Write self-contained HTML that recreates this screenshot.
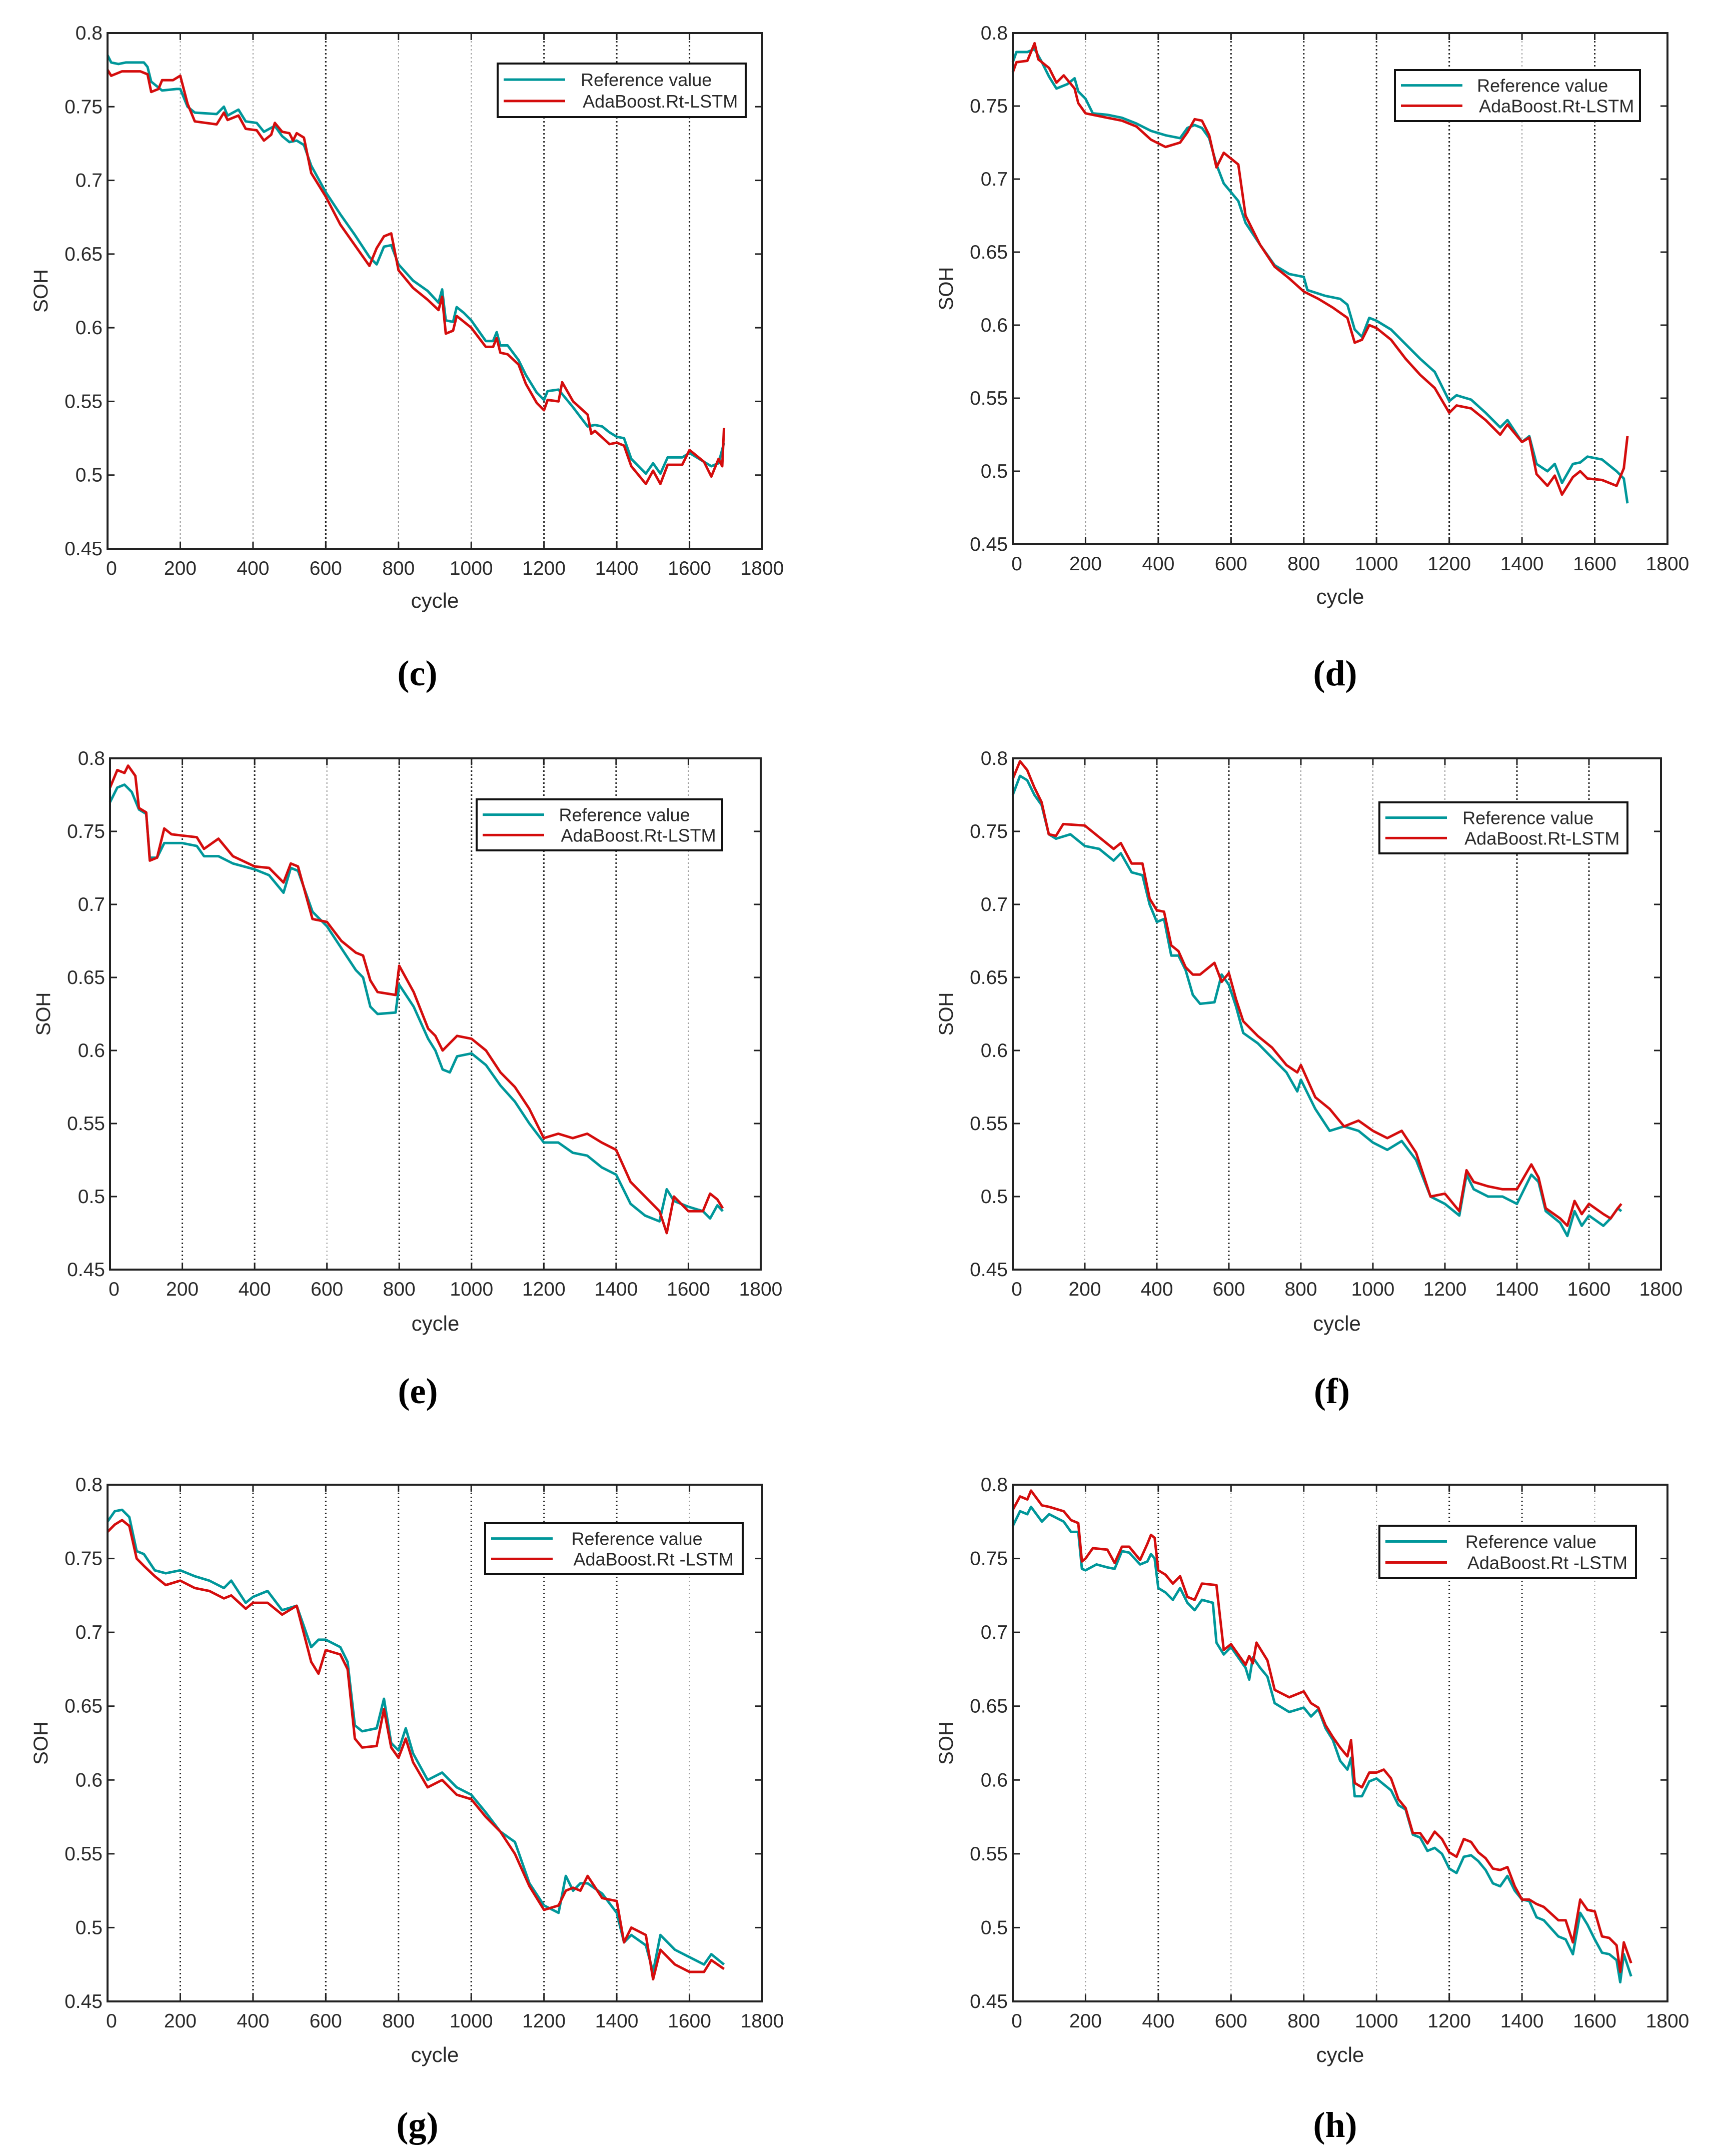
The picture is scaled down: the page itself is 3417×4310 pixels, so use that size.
<!DOCTYPE html>
<html><head><meta charset="utf-8"><style>
html,body{margin:0;padding:0;background:#fff;}
svg{display:block;}
text{font-family:"Liberation Sans",Arial,sans-serif;fill:#2a2a2a;}
</style></head><body>
<svg id="fig" xmlns="http://www.w3.org/2000/svg" width="3417" height="4310" viewBox="0 0 3417 4310"></svg>
<script>
const xTicks=[0,200,400,600,800,1000,1200,1400,1600,1800];
const yTicks=[0.45,0.5,0.55,0.6,0.65,0.7,0.75,0.8];
const yTickLabels=["0.45","0.5","0.55","0.6","0.65","0.7","0.75","0.8"];
const seriesNames=["Reference value","AdaBoost.Rt-LSTM"];
const seriesNamesB=["Reference value","AdaBoost.Rt -LSTM"];

const cRefX=[0,10,30,50,100,110,120,150,190,200,220,240,300,320,330,360,380,410,430,460,480,500,520,540,560,600,640,680,720,740,760,780,800,840,880,910,920,930,950,960,980,1000,1040,1060,1070,1080,1100,1130,1150,1180,1200,1210,1240,1280,1320,1340,1360,1380,1400,1420,1440,1480,1500,1520,1540,1580,1600,1640,1660,1680,1695];
const cRefY=[0.785,0.78,0.779,0.78,0.78,0.777,0.767,0.761,0.762,0.762,0.75,0.746,0.745,0.75,0.744,0.748,0.74,0.739,0.733,0.737,0.73,0.726,0.727,0.724,0.71,0.692,0.677,0.663,0.648,0.643,0.655,0.656,0.643,0.632,0.625,0.617,0.626,0.605,0.604,0.614,0.61,0.605,0.591,0.591,0.597,0.588,0.588,0.578,0.568,0.556,0.551,0.557,0.558,0.546,0.533,0.534,0.533,0.529,0.526,0.525,0.511,0.501,0.508,0.501,0.512,0.512,0.515,0.509,0.506,0.508,0.522];
const cPredX=[0,10,40,90,110,120,140,150,180,200,220,240,300,320,330,360,380,410,430,450,460,480,500,510,520,540,560,600,640,680,720,740,760,780,800,840,880,910,920,930,950,960,1000,1040,1060,1070,1080,1100,1130,1150,1180,1200,1210,1240,1250,1280,1320,1330,1340,1380,1400,1420,1440,1480,1500,1520,1540,1580,1600,1640,1660,1680,1690,1695];
const cPredY=[0.775,0.771,0.774,0.774,0.772,0.76,0.762,0.768,0.768,0.771,0.752,0.74,0.738,0.746,0.741,0.744,0.735,0.734,0.727,0.731,0.739,0.733,0.732,0.727,0.732,0.729,0.705,0.689,0.67,0.656,0.642,0.654,0.662,0.664,0.639,0.627,0.619,0.612,0.621,0.596,0.598,0.608,0.6,0.587,0.587,0.593,0.583,0.582,0.575,0.562,0.549,0.544,0.551,0.55,0.563,0.55,0.541,0.528,0.53,0.521,0.522,0.52,0.506,0.494,0.503,0.494,0.507,0.507,0.517,0.509,0.499,0.511,0.506,0.532];

const dRefX=[0,10,40,60,80,100,120,150,170,180,200,220,260,300,340,380,420,460,480,500,520,540,560,580,620,640,680,720,760,800,810,860,900,920,940,960,980,1000,1040,1080,1120,1160,1200,1220,1260,1300,1340,1360,1400,1420,1440,1470,1490,1510,1540,1560,1580,1620,1660,1680,1690];
const dRefY=[0.78,0.787,0.787,0.789,0.78,0.77,0.762,0.765,0.769,0.76,0.755,0.745,0.744,0.742,0.738,0.733,0.73,0.728,0.735,0.737,0.735,0.728,0.71,0.697,0.685,0.67,0.655,0.641,0.635,0.633,0.624,0.62,0.618,0.614,0.597,0.592,0.605,0.603,0.597,0.587,0.577,0.568,0.548,0.552,0.549,0.54,0.53,0.535,0.52,0.524,0.505,0.5,0.505,0.492,0.505,0.506,0.51,0.508,0.5,0.495,0.478];
const dPredX=[0,10,40,60,70,100,120,140,170,180,200,260,300,340,380,420,460,480,500,520,540,560,580,620,640,680,720,760,800,840,880,920,940,960,980,1000,1040,1080,1120,1160,1200,1220,1260,1300,1340,1360,1400,1420,1440,1470,1490,1510,1540,1560,1580,1620,1660,1680,1690];
const dPredY=[0.773,0.78,0.781,0.793,0.782,0.776,0.766,0.771,0.762,0.752,0.745,0.742,0.74,0.736,0.727,0.722,0.725,0.732,0.741,0.74,0.73,0.708,0.718,0.71,0.675,0.655,0.64,0.632,0.623,0.618,0.612,0.605,0.588,0.59,0.6,0.598,0.59,0.577,0.566,0.557,0.54,0.545,0.543,0.535,0.525,0.532,0.52,0.523,0.498,0.49,0.497,0.484,0.496,0.5,0.495,0.494,0.49,0.502,0.524];

const eRefX=[0,20,40,60,80,100,110,130,150,200,240,260,300,340,400,440,480,500,520,560,600,640,680,700,720,740,790,800,840,880,900,920,940,960,1000,1040,1080,1120,1160,1200,1240,1280,1320,1360,1400,1440,1480,1520,1540,1560,1600,1640,1660,1680,1695];
const eRefY=[0.77,0.78,0.782,0.777,0.765,0.762,0.732,0.732,0.742,0.742,0.74,0.733,0.733,0.728,0.724,0.72,0.708,0.725,0.723,0.695,0.685,0.67,0.655,0.65,0.63,0.625,0.626,0.645,0.63,0.608,0.6,0.587,0.585,0.596,0.598,0.59,0.576,0.565,0.55,0.537,0.537,0.53,0.528,0.52,0.515,0.495,0.487,0.483,0.505,0.497,0.493,0.49,0.485,0.494,0.49];
const ePredX=[0,20,40,50,70,80,100,110,130,150,170,240,260,300,340,400,440,480,500,520,560,600,640,680,700,720,740,790,800,840,880,900,920,940,960,1000,1040,1080,1120,1160,1200,1240,1280,1320,1360,1400,1440,1480,1520,1540,1560,1600,1640,1660,1680,1695];
const ePredY=[0.78,0.792,0.79,0.795,0.788,0.766,0.763,0.73,0.732,0.752,0.748,0.746,0.738,0.745,0.733,0.726,0.725,0.715,0.728,0.726,0.69,0.688,0.675,0.667,0.665,0.648,0.64,0.638,0.658,0.64,0.615,0.61,0.6,0.605,0.61,0.608,0.6,0.585,0.575,0.56,0.54,0.543,0.54,0.543,0.537,0.532,0.51,0.5,0.49,0.475,0.5,0.49,0.49,0.502,0.498,0.492];

const fRefX=[0,20,40,60,80,100,120,160,200,240,280,300,330,360,380,400,420,440,460,480,500,520,560,580,600,620,640,680,720,760,790,800,840,880,920,960,1000,1040,1080,1120,1160,1200,1240,1260,1280,1320,1360,1400,1440,1460,1480,1520,1540,1560,1580,1600,1640,1660,1680,1690];
const fRefY=[0.775,0.788,0.785,0.775,0.768,0.748,0.745,0.748,0.74,0.738,0.73,0.735,0.722,0.72,0.7,0.688,0.69,0.665,0.665,0.655,0.638,0.632,0.633,0.652,0.645,0.63,0.612,0.605,0.595,0.585,0.572,0.58,0.56,0.545,0.548,0.545,0.537,0.532,0.538,0.525,0.5,0.495,0.487,0.515,0.505,0.5,0.5,0.495,0.515,0.51,0.49,0.482,0.473,0.49,0.48,0.487,0.48,0.485,0.492,0.49];
const fPredX=[0,20,40,60,80,100,120,140,200,240,280,300,330,360,380,400,420,440,460,480,500,520,560,580,600,620,640,680,720,760,790,800,840,880,920,960,1000,1040,1080,1120,1160,1200,1240,1260,1280,1320,1360,1400,1440,1460,1480,1520,1540,1560,1580,1600,1640,1660,1680,1690];
const fPredY=[0.786,0.798,0.792,0.78,0.77,0.748,0.747,0.755,0.754,0.746,0.738,0.742,0.728,0.728,0.704,0.696,0.695,0.672,0.668,0.657,0.652,0.652,0.66,0.647,0.653,0.635,0.62,0.61,0.602,0.59,0.585,0.59,0.568,0.56,0.548,0.552,0.545,0.54,0.545,0.53,0.5,0.502,0.49,0.518,0.51,0.507,0.505,0.505,0.522,0.513,0.492,0.485,0.48,0.497,0.488,0.495,0.488,0.485,0.492,0.495];

const gRefX=[0,20,40,60,80,100,130,160,200,240,280,320,340,380,400,440,480,520,560,580,600,640,660,680,700,740,760,780,800,820,840,880,920,960,1000,1040,1080,1120,1160,1200,1240,1260,1280,1300,1320,1360,1400,1420,1440,1480,1500,1520,1560,1600,1640,1660,1695];
const gRefY=[0.775,0.782,0.783,0.778,0.755,0.753,0.742,0.74,0.742,0.738,0.735,0.73,0.735,0.72,0.724,0.728,0.715,0.718,0.69,0.695,0.695,0.69,0.68,0.637,0.633,0.635,0.655,0.625,0.62,0.635,0.618,0.6,0.605,0.595,0.59,0.578,0.565,0.558,0.53,0.515,0.51,0.535,0.525,0.53,0.53,0.523,0.51,0.49,0.495,0.488,0.47,0.495,0.485,0.48,0.475,0.482,0.475];
const gPredX=[0,20,40,60,80,100,130,160,200,240,280,320,340,380,400,440,480,520,560,580,600,640,660,680,700,740,760,780,800,820,840,880,920,960,1000,1040,1080,1120,1160,1200,1240,1260,1280,1300,1320,1360,1400,1420,1440,1480,1500,1520,1560,1600,1640,1660,1695];
const gPredY=[0.768,0.773,0.776,0.772,0.75,0.745,0.738,0.732,0.735,0.73,0.728,0.723,0.725,0.716,0.72,0.72,0.712,0.718,0.68,0.672,0.688,0.685,0.675,0.628,0.622,0.623,0.648,0.622,0.615,0.628,0.612,0.595,0.6,0.59,0.587,0.575,0.565,0.55,0.528,0.512,0.515,0.525,0.527,0.525,0.535,0.52,0.518,0.49,0.5,0.495,0.465,0.485,0.475,0.47,0.47,0.478,0.472];

const hRefX=[0,20,40,50,80,100,140,160,180,190,200,230,260,280,300,320,350,370,380,390,400,420,440,460,480,500,520,550,560,580,600,640,650,660,680,700,720,760,800,820,840,860,880,900,920,930,940,960,980,1000,1040,1060,1080,1100,1120,1140,1160,1180,1200,1220,1240,1260,1280,1300,1320,1340,1360,1380,1400,1420,1440,1460,1500,1520,1540,1560,1580,1600,1620,1640,1660,1670,1680,1700];
const hRefY=[0.772,0.782,0.78,0.785,0.775,0.78,0.775,0.768,0.768,0.743,0.742,0.746,0.744,0.743,0.755,0.754,0.746,0.748,0.753,0.75,0.73,0.727,0.722,0.73,0.72,0.715,0.722,0.72,0.693,0.685,0.69,0.676,0.668,0.683,0.676,0.67,0.652,0.646,0.649,0.643,0.648,0.635,0.627,0.613,0.607,0.615,0.589,0.589,0.599,0.601,0.593,0.583,0.58,0.563,0.561,0.552,0.554,0.55,0.54,0.537,0.548,0.549,0.545,0.539,0.53,0.528,0.535,0.525,0.519,0.518,0.507,0.505,0.494,0.492,0.482,0.51,0.502,0.492,0.483,0.482,0.478,0.463,0.482,0.467];
const hPredX=[0,20,40,50,80,100,140,160,180,190,200,220,260,280,300,320,350,370,380,390,400,420,440,460,480,500,520,560,580,600,640,650,660,670,700,720,760,800,820,840,860,880,900,920,930,940,960,980,1000,1020,1040,1060,1080,1100,1120,1140,1160,1180,1200,1220,1240,1260,1280,1300,1320,1340,1360,1380,1400,1420,1440,1460,1500,1520,1540,1560,1580,1600,1620,1640,1660,1670,1680,1700];
const hPredY=[0.783,0.792,0.79,0.796,0.786,0.785,0.782,0.776,0.774,0.748,0.75,0.757,0.756,0.747,0.758,0.758,0.749,0.76,0.766,0.764,0.742,0.739,0.733,0.738,0.724,0.722,0.733,0.732,0.688,0.692,0.678,0.684,0.679,0.693,0.681,0.661,0.656,0.66,0.652,0.649,0.637,0.629,0.622,0.616,0.627,0.598,0.595,0.605,0.605,0.607,0.601,0.587,0.581,0.564,0.564,0.557,0.565,0.56,0.551,0.548,0.56,0.558,0.551,0.547,0.54,0.539,0.541,0.528,0.519,0.519,0.516,0.514,0.505,0.505,0.49,0.519,0.512,0.511,0.494,0.493,0.488,0.47,0.49,0.476];

const NS="http://www.w3.org/2000/svg";
const svg=document.getElementById('fig');
function mk(tag,attrs,parent){const e=document.createElementNS(NS,tag);for(const k in attrs)e.setAttribute(k,attrs[k]);(parent||svg).appendChild(e);return e;}

const panels=[
 {id:'c',L:215,R:1524,T:66,B:1097,lg:[995,127,496,107],cyc:1215,let:1370,rx:cRefX,ry:cRefY,px:cPredX,py:cPredY,names:seriesNames,dark:[600,1200,1400,1600]},
 {id:'d',L:2025,R:3334,T:66,B:1088,lg:[2789,140,490,102],cyc:1207,let:1370,rx:dRefX,ry:dRefY,px:dPredX,py:dPredY,names:seriesNames,dark:[400,600,800,1000,1200,1600]},
 {id:'e',L:220,R:1521,T:1516,B:2538,lg:[953,1598,491,102],cyc:2660,let:2805,rx:eRefX,ry:eRefY,px:ePredX,py:ePredY,names:seriesNames,dark:[200,400,800,1000,1200,1400]},
 {id:'f',L:2025,R:3321,T:1516,B:2538,lg:[2758,1604,496,102],cyc:2660,let:2805,rx:fRefX,ry:fRefY,px:fPredX,py:fPredY,names:seriesNames,dark:[400,600,1400,1600]},
 {id:'g',L:215,R:1524,T:2968,B:4001,lg:[970,3045,515,102],cyc:4122,let:4272,rx:gRefX,ry:gRefY,px:gPredX,py:gPredY,names:seriesNamesB,dark:[200,400,600,800,1000,1200,1400]},
 {id:'h',L:2025,R:3334,T:2968,B:4001,lg:[2758,3050,513,105],cyc:4122,let:4272,rx:hRefX,ry:hRefY,px:hPredX,py:hPredY,names:seriesNamesB,dark:[400,1200,1400]}
];

panels.forEach(p=>{
 const g=mk('g',{});
 
 
 const sx=v=>p.L+(v-0)/1800*(p.R-p.L);
 const sy=v=>p.B-(v-0.45)/0.35*(p.B-p.T);
 xTicks.forEach(t=>{
  if(t===0||t===1800)return;
  const dark=p.dark.indexOf(t)>=0;
  const l=mk('line',{x1:sx(t),x2:sx(t),y1:p.T,y2:p.B,stroke:dark?'#222':'#999','stroke-width':dark?3:2,'stroke-dasharray':'3,5'},g);
  
  
 });
 xTicks.forEach(t=>{
  const x=sx(t);
  mk('line',{x1:x,x2:x,y1:p.B,y2:p.B-14,stroke:'#222','stroke-width':3},g);
  mk('line',{x1:x,x2:x,y1:p.T,y2:p.T+14,stroke:'#222','stroke-width':3},g);
  const tx=mk('text',{x:x+(t===0?8:0),y:p.B+52,'font-size':39,'text-anchor':'middle'},g);
  tx.textContent=String(t);
  
  
 });
 yTicks.forEach((t,i)=>{
  const y=sy(t);
  mk('line',{x1:p.L,x2:p.L+14,y1:y,y2:y,stroke:'#222','stroke-width':3},g);
  mk('line',{x1:p.R,x2:p.R-14,y1:y,y2:y,stroke:'#222','stroke-width':3},g);
  const tx=mk('text',{x:p.L-10,y:y+13,'font-size':39,'text-anchor':'end'},g);
  tx.textContent=yTickLabels[i];
  
  
 });
 const line=(xs,ys,col,name)=>{
  let d='';xs.forEach((x,i)=>{d+=(i?'L':'M')+sx(x).toFixed(1)+','+sy(ys[i]).toFixed(1);});
  const pa=mk('path',{d:d,fill:'none',stroke:col,'stroke-width':5,'stroke-linejoin':'round'},g);
  
  
 };
 line(p.rx,p.ry,'#00979a','reference-value-line');
 line(p.px,p.py,'#d40d0d','adaboost-lstm-line');
 const fr=mk('rect',{x:p.L,y:p.T,width:p.R-p.L,height:p.B-p.T,fill:'none',stroke:'#222','stroke-width':4},g);
 
 
 const [lx,ly,lw,lh]=p.lg;
 const lg=mk('g',{},g);
 
 
 mk('rect',{x:lx,y:ly,width:lw,height:lh,fill:'#fff',stroke:'#111','stroke-width':4},lg);
 [['#00979a',0],['#d40d0d',1]].forEach(([c,i])=>{
  const yy=ly+lh*(i?0.7:0.3);
  mk('line',{x1:lx+12,x2:lx+135,y1:yy,y2:yy,stroke:c,'stroke-width':5},lg);
  const t=mk('text',{x:lx+lw*0.335+(i?4:0),y:yy+13,'font-size':36,'text-anchor':'start',fill:'#111'},lg);
  t.textContent=p.names[i];
  
  
 });
 const cx=(p.L+p.R)/2;
 const xt=mk('text',{x:cx,y:p.cyc,'font-size':42,'text-anchor':'middle'},g);
 xt.textContent='cycle';
 
 
 const ym=(p.T+p.B)/2, yx=p.L-120;
 const yt=mk('text',{x:yx,y:ym,'font-size':40,'text-anchor':'middle',transform:'rotate(-90 '+yx+' '+ym+')'},g);
 yt.textContent='SOH';
 
 
 const lt=mk('text',{x:cx-(p.id==='c'||p.id==='e'||p.id==='g'?35:10),y:p.let,'font-size':72,'text-anchor':'middle','font-weight':'bold',style:'font-family:"Liberation Serif",serif;fill:#000'},g);
 lt.textContent='('+p.id+')';
 
 
});
</script>
</body></html>
